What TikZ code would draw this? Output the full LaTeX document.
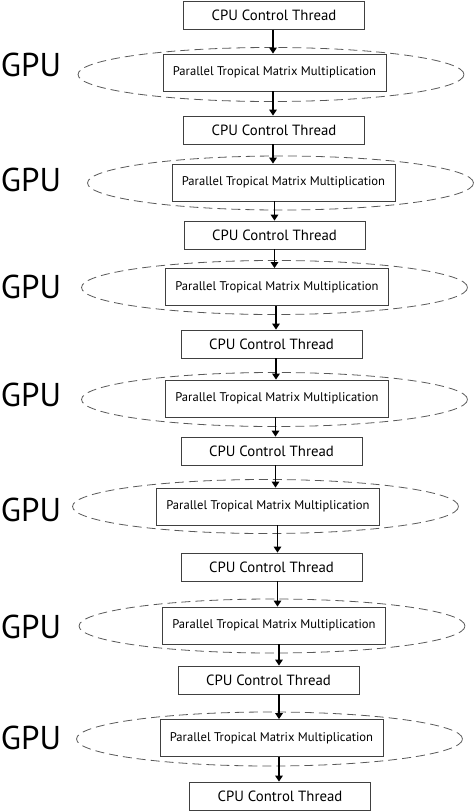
\documentclass[tikz,border=0pt]{standalone}
\usepackage{fontspec}
\setmainfont{PT Sans}
\usepackage{tikz}
\usetikzlibrary{shapes.geometric}
\usetikzlibrary{arrows.meta}

\tikzset{
  cpubox/.style={draw=black!75, line width=0.8pt, fill=white, minimum width=181pt, minimum height=28pt, inner sep=0pt, font=\fontsize{14.8}{16}\selectfont, text=black},
  ptmbox/.style={draw=black!75, line width=0.8pt, fill=white, minimum width=223pt, minimum height=37pt, inner sep=0pt, font=\fontsize{12.6}{14}\selectfont, text=black},
  gpuring/.style={ellipse, draw=black!65, line width=0.8pt, dash pattern=on 9pt off 5pt, minimum width=386pt, minimum height=54pt, inner sep=0pt},
  gpulabel/.style={font=\fontsize{33}{35}\selectfont, text=black, inner sep=0pt},
  flow/.style={line width=1.4pt, -{Triangle[length=6pt, width=7.5pt]}}
}

\begin{document}
\begin{tikzpicture}[x=1pt, y=-1pt]
\useasboundingbox (0,0) rectangle (474,811);

% arrow columns
\coordinate(k1) at (273, 0);
\coordinate(k2) at (273, 0);
\coordinate(k3) at (274.5, 0);
\coordinate(k4) at (276, 0);
\coordinate(k5) at (275.5, 0);
\coordinate(k6) at (277.5, 0);
\coordinate(k7) at (279, 0);
\coordinate(k8) at (279, 0);

% GPU rings
\node[gpuring] (r1) at (271, 74.5) {};
\node[gpuring] (r2) at (280.5, 183) {};
\node[gpuring] (r3) at (274.5, 287.5) {};
\node[gpuring] (r4) at (274.5, 399.5) {};
\node[gpuring] (r5) at (265.5, 506.5) {};
\node[gpuring] (r6) at (272, 626) {};
\node[gpuring] (r7) at (269.5, 739) {};

% CPU steps
\node[cpubox] (c1) at (274, 15.5) {CPU Control Thread};
\node[cpubox] (c2) at (274, 130) {CPU Control Thread};
\node[cpubox] (c3) at (274.5, 235) {CPU Control Thread};
\node[cpubox] (c4) at (271.5, 344) {CPU Control Thread};
\node[cpubox] (c5) at (271.5, 451) {CPU Control Thread};
\node[cpubox] (c6) at (271.5, 567) {CPU Control Thread};
\node[cpubox] (c7) at (268.5, 680) {CPU Control Thread};
\node[cpubox] (c8) at (280, 796) {CPU Control Thread};

% GPU steps
\node[ptmbox] (p1) at (274.5, 72.5) {Parallel Tropical Matrix Multiplication};
\node[ptmbox] (p2) at (283.5, 182.5) {Parallel Tropical Matrix Multiplication};
\node[ptmbox] (p3) at (277, 287) {Parallel Tropical Matrix Multiplication};
\node[ptmbox] (p4) at (277, 398.5) {Parallel Tropical Matrix Multiplication};
\node[ptmbox] (p5) at (268, 506.5) {Parallel Tropical Matrix Multiplication};
\node[ptmbox] (p6) at (274, 625.5) {Parallel Tropical Matrix Multiplication};
\node[ptmbox] (p7) at (271.5, 738) {Parallel Tropical Matrix Multiplication};

% labels
\node[gpulabel] (g1) at (31, 65) {GPU};
\node[gpulabel] (g2) at (31, 180) {GPU};
\node[gpulabel] (g3) at (31, 287) {GPU};
\node[gpulabel] (g4) at (31, 395) {GPU};
\node[gpulabel] (g5) at (31, 510) {GPU};
\node[gpulabel] (g6) at (31, 627) {GPU};
\node[gpulabel] (g7) at (31, 738) {GPU};

% arrows
\draw [flow] (c1.south -| k1) -- (p1.north -| k1);
\draw [flow] (p1.south -| k2) -- (c2.north -| k2);
\draw [flow] (c2.south -| k2) -- (p2.north -| k2);
\draw [flow] (p2.south -| k3) -- (c3.north -| k3);
\draw [flow] (c3.south -| k3) -- (p3.north -| k3);
\draw [flow] (p3.south -| k4) -- (c4.north -| k4);
\draw [flow] (c4.south -| k4) -- (p4.north -| k4);
\draw [flow] (p4.south -| k5) -- (c5.north -| k5);
\draw [flow] (c5.south -| k5) -- (p5.north -| k5);
\draw [flow] (p5.south -| k6) -- (c6.north -| k6);
\draw [flow] (c6.south -| k6) -- (p6.north -| k6);
\draw [flow] (p6.south -| k7) -- (c7.north -| k7);
\draw [flow] (c7.south -| k7) -- (p7.north -| k7);
\draw [flow] (p7.south -| k8) -- (c8.north -| k8);

\end{tikzpicture}
\end{document}
